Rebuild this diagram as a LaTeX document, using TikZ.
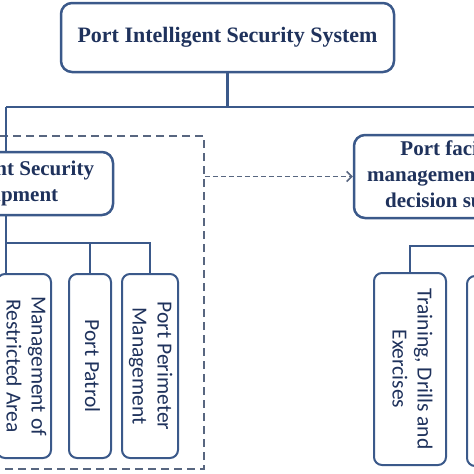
\documentclass[tikz,border=0pt]{standalone}
\usepackage{fontspec}
\setmainfont{Liberation Serif}
\newfontfamily\calibrifont{Carlito}
\usepackage{graphicx}
\usetikzlibrary{arrows.meta}
\definecolor{linkblue}{RGB}{59,89,138}
\definecolor{inkblue}{RGB}{31,50,92}
\definecolor{dashgray}{RGB}{88,102,128}
\newcommand{\vtext}[1]{\rotatebox{-90}{\begin{tabular}{@{}c@{}}#1\end{tabular}}}

\begin{document}
\begin{tikzpicture}[x=1pt,y=-1pt,
  headbox/.style={draw=linkblue,line width=2.5pt,rounded corners=11pt,fill=white,text=inkblue,font=\fontsize{21}{26}\selectfont\bfseries,align=center,inner sep=0pt},
  leafbox/.style={draw=linkblue,line width=2pt,rounded corners=8pt,fill=white,text=inkblue,font=\calibrifont\fontsize{21.5}{25}\selectfont,inner sep=0pt,minimum height=184pt},
  bus/.style={draw=linkblue,line width=2.8pt},
  groupline/.style={draw=dashgray,line width=1.6pt,dash pattern=on 8pt off 5pt}]
\path[use as bounding box] (0,0) rectangle (474,474);
\clip (0,0) rectangle (474,474);

\node[groupline,minimum width=212pt,minimum height=333pt,inner sep=0pt] (grp) at (98,302.5) {};

\coordinate (busL) at (6,107);
\coordinate (cbus) at (6,243);

\node[headbox,minimum width=333pt,minimum height=69pt,font=\fontsize{22}{26}\selectfont\bfseries] (sys) at (227.5,37.5) {Port Intelligent Security System};
\node[headbox,minimum width=210pt,minimum height=63pt] (equip) at (8,183.5) {Intelligent Security\\Equipment};
\node[headbox,minimum width=276pt,minimum height=83pt] (decis) at (492,176.5) {Port facility security\\management and intelligent\\decision support system};

\node[leafbox,minimum width=54pt] (restr) at (24,366) {\vtext{Management of\\Restricted Area}};
\node[leafbox,minimum width=42pt] (patrol) at (90,366) {\vtext{Port Patrol}};
\node[leafbox,minimum width=56pt] (perim) at (150,366) {\vtext{Port Perimeter\\Management}};
\node[leafbox,minimum width=72pt,minimum height=192pt] (train) at (410,369) {\vtext{Training, Drills and\\Exercises}};
\node[leafbox,minimum width=72pt,minimum height=190pt] (nextleaf) at (503,371) {};

\draw[bus] (sys.south) -- (sys.south |- busL);
\draw[bus] (busL) -| (decis.north);
\draw[bus] (busL) -- (equip.north -| busL);
\draw[bus] (equip.south -| busL) -- (restr.north -| busL);
\draw[bus,line width=2.3pt] (cbus) -| (patrol.north);
\draw[bus,line width=2.3pt] (cbus) -| (perim.north);
\draw[bus,line width=2.3pt] (decis.south) -- ++(0,27) coordinate (rbus) -| (train.north);
\draw[bus,line width=2.3pt] (rbus) -| (nextleaf.north);

\draw[groupline,line width=1.5pt,dash pattern=on 5pt off 3pt,-{Straight Barb[length=5pt,width=10pt]}] (grp.east |- decis.west) -- (decis.west);

\end{tikzpicture}
\end{document}
